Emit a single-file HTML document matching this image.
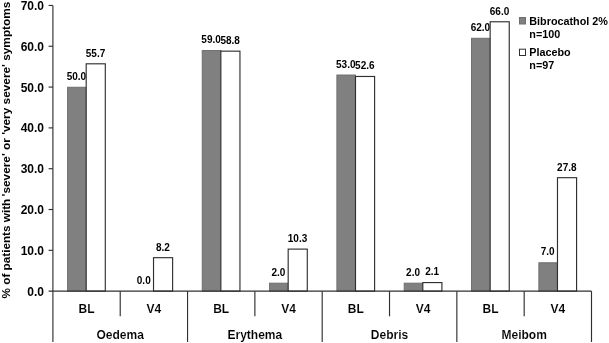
<!DOCTYPE html>
<html><head><meta charset="utf-8"><title>Chart</title>
<style>
html,body{margin:0;padding:0;background:#fff;}
body{width:609px;height:343px;overflow:hidden;}
svg{display:block;font-family:"Liberation Sans",Arial,sans-serif;}
.yl{font-size:12px;font-weight:bold;text-anchor:end;fill:#000;}
.dl{font-size:10px;font-weight:bold;text-anchor:middle;fill:#000;}
.cl{font-size:12px;font-weight:bold;text-anchor:middle;fill:#000;stroke:#fff;stroke-width:0.1px;}
.gl{font-size:12px;font-weight:bold;text-anchor:middle;fill:#000;stroke:#fff;stroke-width:0.1px;}
.lg{font-size:10.8px;font-weight:bold;fill:#000;}
.yt{font-size:11.8px;font-weight:bold;fill:#000;}
</style></head><body>
<svg width="609" height="343" viewBox="0 0 609 343">
<rect width="609" height="343" fill="#fff"/>
<rect x="67.60" y="87.28" width="18.60" height="203.87" fill="#808080" stroke="#6e6e6e" stroke-width="1"/>
<rect x="86.20" y="63.81" width="19.10" height="227.34" fill="#fff" stroke="#303030" stroke-width="1.15"/>
<rect x="153.52" y="257.68" width="19.10" height="33.47" fill="#fff" stroke="#303030" stroke-width="1.15"/>
<rect x="202.25" y="50.55" width="18.60" height="240.60" fill="#808080" stroke="#6e6e6e" stroke-width="1"/>
<rect x="220.85" y="51.16" width="19.10" height="239.99" fill="#fff" stroke="#303030" stroke-width="1.15"/>
<rect x="269.58" y="283.19" width="18.60" height="7.96" fill="#808080" stroke="#6e6e6e" stroke-width="1"/>
<rect x="288.18" y="249.11" width="19.10" height="42.04" fill="#fff" stroke="#303030" stroke-width="1.15"/>
<rect x="336.90" y="75.03" width="18.60" height="216.12" fill="#808080" stroke="#6e6e6e" stroke-width="1"/>
<rect x="355.50" y="76.47" width="19.10" height="214.68" fill="#fff" stroke="#303030" stroke-width="1.15"/>
<rect x="404.22" y="283.19" width="18.60" height="7.96" fill="#808080" stroke="#6e6e6e" stroke-width="1"/>
<rect x="422.82" y="282.58" width="19.10" height="8.57" fill="#fff" stroke="#303030" stroke-width="1.15"/>
<rect x="471.55" y="38.30" width="18.60" height="252.85" fill="#808080" stroke="#6e6e6e" stroke-width="1"/>
<rect x="490.15" y="21.78" width="19.10" height="269.37" fill="#fff" stroke="#303030" stroke-width="1.15"/>
<rect x="538.88" y="262.78" width="18.60" height="28.37" fill="#808080" stroke="#6e6e6e" stroke-width="1"/>
<rect x="557.48" y="177.69" width="19.10" height="113.46" fill="#fff" stroke="#303030" stroke-width="1.15"/>
<g stroke="#303030" stroke-width="1.15" fill="none">
<line x1="52.9" y1="5.45" x2="52.9" y2="342"/>
<line x1="48.6" y1="291.15" x2="591.5" y2="291.15"/>
<line x1="48.6" y1="250.34" x2="52.9" y2="250.34"/>
<line x1="48.6" y1="209.52" x2="52.9" y2="209.52"/>
<line x1="48.6" y1="168.71" x2="52.9" y2="168.71"/>
<line x1="48.6" y1="127.89" x2="52.9" y2="127.89"/>
<line x1="48.6" y1="87.08" x2="52.9" y2="87.08"/>
<line x1="48.6" y1="46.26" x2="52.9" y2="46.26"/>
<line x1="48.6" y1="5.45" x2="52.9" y2="5.45"/>
<line x1="120.22" y1="291.15" x2="120.22" y2="316.3"/>
<line x1="187.55" y1="291.15" x2="187.55" y2="342"/>
<line x1="254.88" y1="291.15" x2="254.88" y2="316.3"/>
<line x1="322.20" y1="291.15" x2="322.20" y2="342"/>
<line x1="389.52" y1="291.15" x2="389.52" y2="316.3"/>
<line x1="456.85" y1="291.15" x2="456.85" y2="342"/>
<line x1="524.18" y1="291.15" x2="524.18" y2="316.3"/>
<line x1="591.50" y1="291.15" x2="591.50" y2="342"/>
</g>
<text class="yl" x="44" y="295.65">0.0</text>
<text class="yl" x="44" y="254.84">10.0</text>
<text class="yl" x="44" y="214.02">20.0</text>
<text class="yl" x="44" y="173.21">30.0</text>
<text class="yl" x="44" y="132.39">40.0</text>
<text class="yl" x="44" y="91.58">50.0</text>
<text class="yl" x="44" y="50.76">60.0</text>
<text class="yl" x="44" y="9.95">70.0</text>
<text class="dl" x="76.45" y="79.98">50.0</text>
<text class="dl" x="95.55" y="56.71">55.7</text>
<text class="dl" x="143.78" y="284.05">0.0</text>
<text class="dl" x="162.88" y="250.58">8.2</text>
<text class="dl" x="211.10" y="43.25">59.0</text>
<text class="dl" x="230.20" y="44.06">58.8</text>
<text class="dl" x="278.43" y="275.89">2.0</text>
<text class="dl" x="297.53" y="242.01">10.3</text>
<text class="dl" x="345.75" y="67.73">53.0</text>
<text class="dl" x="364.85" y="69.37">52.6</text>
<text class="dl" x="413.07" y="275.89">2.0</text>
<text class="dl" x="432.18" y="275.48">2.1</text>
<text class="dl" x="480.40" y="31.00">62.0</text>
<text class="dl" x="499.50" y="14.68">66.0</text>
<text class="dl" x="547.73" y="255.48">7.0</text>
<text class="dl" x="566.83" y="170.59">27.8</text>
<text class="cl" x="86.56" y="313.4">BL</text>
<text class="cl" x="153.89" y="313.4">V4</text>
<text class="cl" x="221.21" y="313.4">BL</text>
<text class="cl" x="288.54" y="313.4">V4</text>
<text class="cl" x="355.86" y="313.4">BL</text>
<text class="cl" x="423.19" y="313.4">V4</text>
<text class="cl" x="490.51" y="313.4">BL</text>
<text class="cl" x="557.84" y="313.4">V4</text>
<text class="gl" x="120.22" y="338.5">Oedema</text>
<text class="gl" x="254.88" y="338.5">Erythema</text>
<text class="gl" x="389.52" y="338.5">Debris</text>
<text class="gl" x="524.18" y="338.5">Meibom</text>
<rect x="519.5" y="17.5" width="6" height="6.5" fill="#808080" stroke="#6e6e6e" stroke-width="1"/>
<rect x="519.5" y="49.2" width="6" height="6.3" fill="#fff" stroke="#303030" stroke-width="1"/>
<text class="lg" x="529.3" y="24.6">Bibrocathol 2%</text>
<text class="lg" x="529.3" y="37.9">n=100</text>
<text class="lg" x="529.3" y="55.9">Placebo</text>
<text class="lg" x="529.3" y="69.0">n=97</text>
<text class="yt" transform="translate(10.1,298.4) rotate(-90)" textLength="99.6" lengthAdjust="spacingAndGlyphs">% of patients with</text>
<text class="yt" transform="translate(10.1,196.4) rotate(-90)" textLength="194.8" lengthAdjust="spacingAndGlyphs">'severe' or 'very severe' symptoms</text>
</svg></body></html>
